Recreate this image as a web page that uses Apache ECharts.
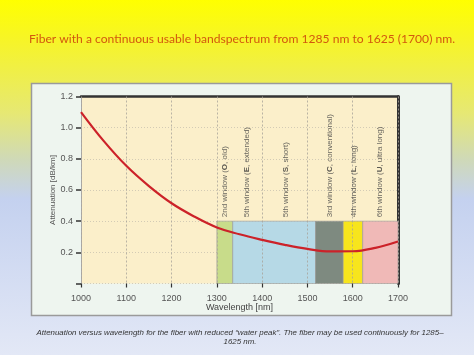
<!DOCTYPE html>
<html><head><meta charset="utf-8">
<script src="https://cdn.jsdelivr.net/npm/echarts@6/dist/echarts.min.js"></script>
<style>html,body{margin:0;padding:0;}#c{width:474px;height:355px;}</style>
</head><body><div id="c"></div>
<script>
// Data
const wavelengths = [1000,1050,1100,1150,1200,1250,1300,1350,1400,1450,1500,1550,1600,1650,1700];
const attenuation = [1.10,0.915,0.755,0.625,0.515,0.43,0.36,0.316,0.28,0.248,0.222,0.206,0.207,0.229,0.27];
const bandStarts = [1300,1335,1518,1579,1622];
const bandEnds   = [1335,1518,1579,1622,1700];
const bandTop = 0.4;
const bandColors = ['#c8dc8a','#b6d9e6','#7e8a80','#f7e51d','#f0b9b7'];
const windowLabelX = [1318,1367,1452,1550,1602,1660];
const windowLabels = ['2nd window ({b|O}, old)','5th window ({b|E}, extended)','5th window ({b|S}, short)','3rd window ({b|C}, conventional)','4th window ({b|L}, long)','6th window ({b|U}, ultra long)'];
const labelY = 0.425;
const xTicks = [1000,1100,1200,1300,1400,1500,1600,1700];
const yTicks = [0.2,0.4,0.6,0.8,1.0,1.2];
const titleText = 'Fiber with a continuous usable bandspectrum from 1285 nm to 1625 (1700) nm.';
const captionText = 'Attenuation versus wavelength for the fiber with reduced \u201cwater peak\u201d. The fiber may be used continuously for 1285\u2013\n1625 nm.';

const chart = echarts.init(document.getElementById('c'), null, {renderer:'canvas'});
const font = '"Liberation Sans", Arial, sans-serif';

chart.setOption({
  animation: false,
  backgroundColor: new echarts.graphic.LinearGradient(0,0,0,1,[
    {offset:0, color:'#ffff00'},
    {offset:0.12, color:'#f6f42a'},
    {offset:0.32, color:'#e6e874'},
    {offset:0.45, color:'#cfd9b8'},
    {offset:0.56, color:'#c4d1ef'},
    {offset:1, color:'#e3e8f6'}
  ]),
  graphic: [{
    type:'rect', z:-1, silent:true,
    shape:{x:31.5, y:83.5, width:420, height:232},
    style:{fill:'#eef5ef', stroke:'#9a9a9a', lineWidth:1.5}
  }],
  title: [{
    text: titleText, left: 237, textAlign:'center', top: 28,
    textStyle:{color:'#d2580e', fontFamily:'Lato, "Open Sans", sans-serif', fontSize:12.1, fontWeight:'normal'}
  },{
    text: captionText, left: 235, textAlign:'center', top: 323,
    textStyle:{color:'#333', fontFamily:font, fontSize:7.9, fontStyle:'italic', fontWeight:'normal', lineHeight:9}
  }],
  grid: {left:81, right:76, top:96.5, bottom:71.5, show:true, backgroundColor:'#fbefca', borderWidth:0},
  xAxis: [{
    type:'value', min:1000, max:1700, interval:100, z:3,
    name:'Wavelength [nm]', nameLocation:'middle', nameGap:20, nameMoveOverlap:false,
    nameTextStyle:{color:'#444', fontFamily:font, fontSize:9},
    axisLine:{show:false},
    axisTick:{show:true, length:4, lineStyle:{color:'#333', width:1.2}},
    axisLabel:{color:'#555', fontFamily:font, fontSize:9, margin:11,
      formatter: v => xTicks.includes(v) ? String(v) : ''},
    splitLine:{show:true, lineStyle:{color:'#a9a49a', type:[2,2], width:0.8}}
  },{
    type:'value', position:'top', min:1000, max:1700,
    axisLine:{show:true, onZero:false, lineStyle:{color:'#333', width:2.5}},
    axisTick:{show:false}, axisLabel:{show:false}, splitLine:{show:false}
  }],
  yAxis: [{
    type:'value', min:0, max:1.2, interval:0.2,
    name:'Attenuation [dB/km]', nameLocation:'middle', nameGap:24, nameMoveOverlap:false,
    nameTextStyle:{color:'#555', fontFamily:font, fontSize:8},
    axisLine:{show:true, lineStyle:{color:'#aaa', width:1}},
    axisTick:{show:true, length:5, lineStyle:{color:'#333', width:1.5}},
    axisLabel:{color:'#555', fontFamily:font, fontSize:9, margin:8,
      formatter: v => { const r = Math.round(v*10)/10; return yTicks.includes(r) ? r.toFixed(1) : ''; }},
    splitLine:{show:true, lineStyle:{color:'#c9c2b0', type:[1,2], width:0.8}}
  },{
    type:'value', position:'right', min:0, max:1.2,
    axisLine:{show:true, onZero:false, lineStyle:{color:'#333', width:3}},
    axisTick:{show:false}, axisLabel:{show:false}, splitLine:{show:false}
  }],
  series: [{
    type:'line', data:[], silent:true,
    markArea:{silent:true,
      itemStyle:{borderColor:'#999', borderWidth:0.6},
      data: bandStarts.map((s,i)=>[{xAxis:s, yAxis:0, itemStyle:{color:bandColors[i]}},{xAxis:bandEnds[i], yAxis:bandTop}])
    }
  },{
    type:'scatter', symbolSize:0, silent:true, z:4,
    data: windowLabelX.map(x=>[x,labelY]),
    label:{show:true, position:'inside', rotate:90, align:'left', verticalAlign:'middle',
      color:'#444', fontFamily:font, fontSize:8,
      formatter: p => windowLabels[p.dataIndex],
      rich:{b:{fontWeight:'bold', color:'#333', fontFamily:font, fontSize:8}}}
  },{
    type:'line', smooth:0.4, showSymbol:false, z:5,
    data: wavelengths.map((w,i)=>[w, attenuation[i]]),
    lineStyle:{color:'#cc2229', width:2.2}
  }]
});
</script></body></html>
